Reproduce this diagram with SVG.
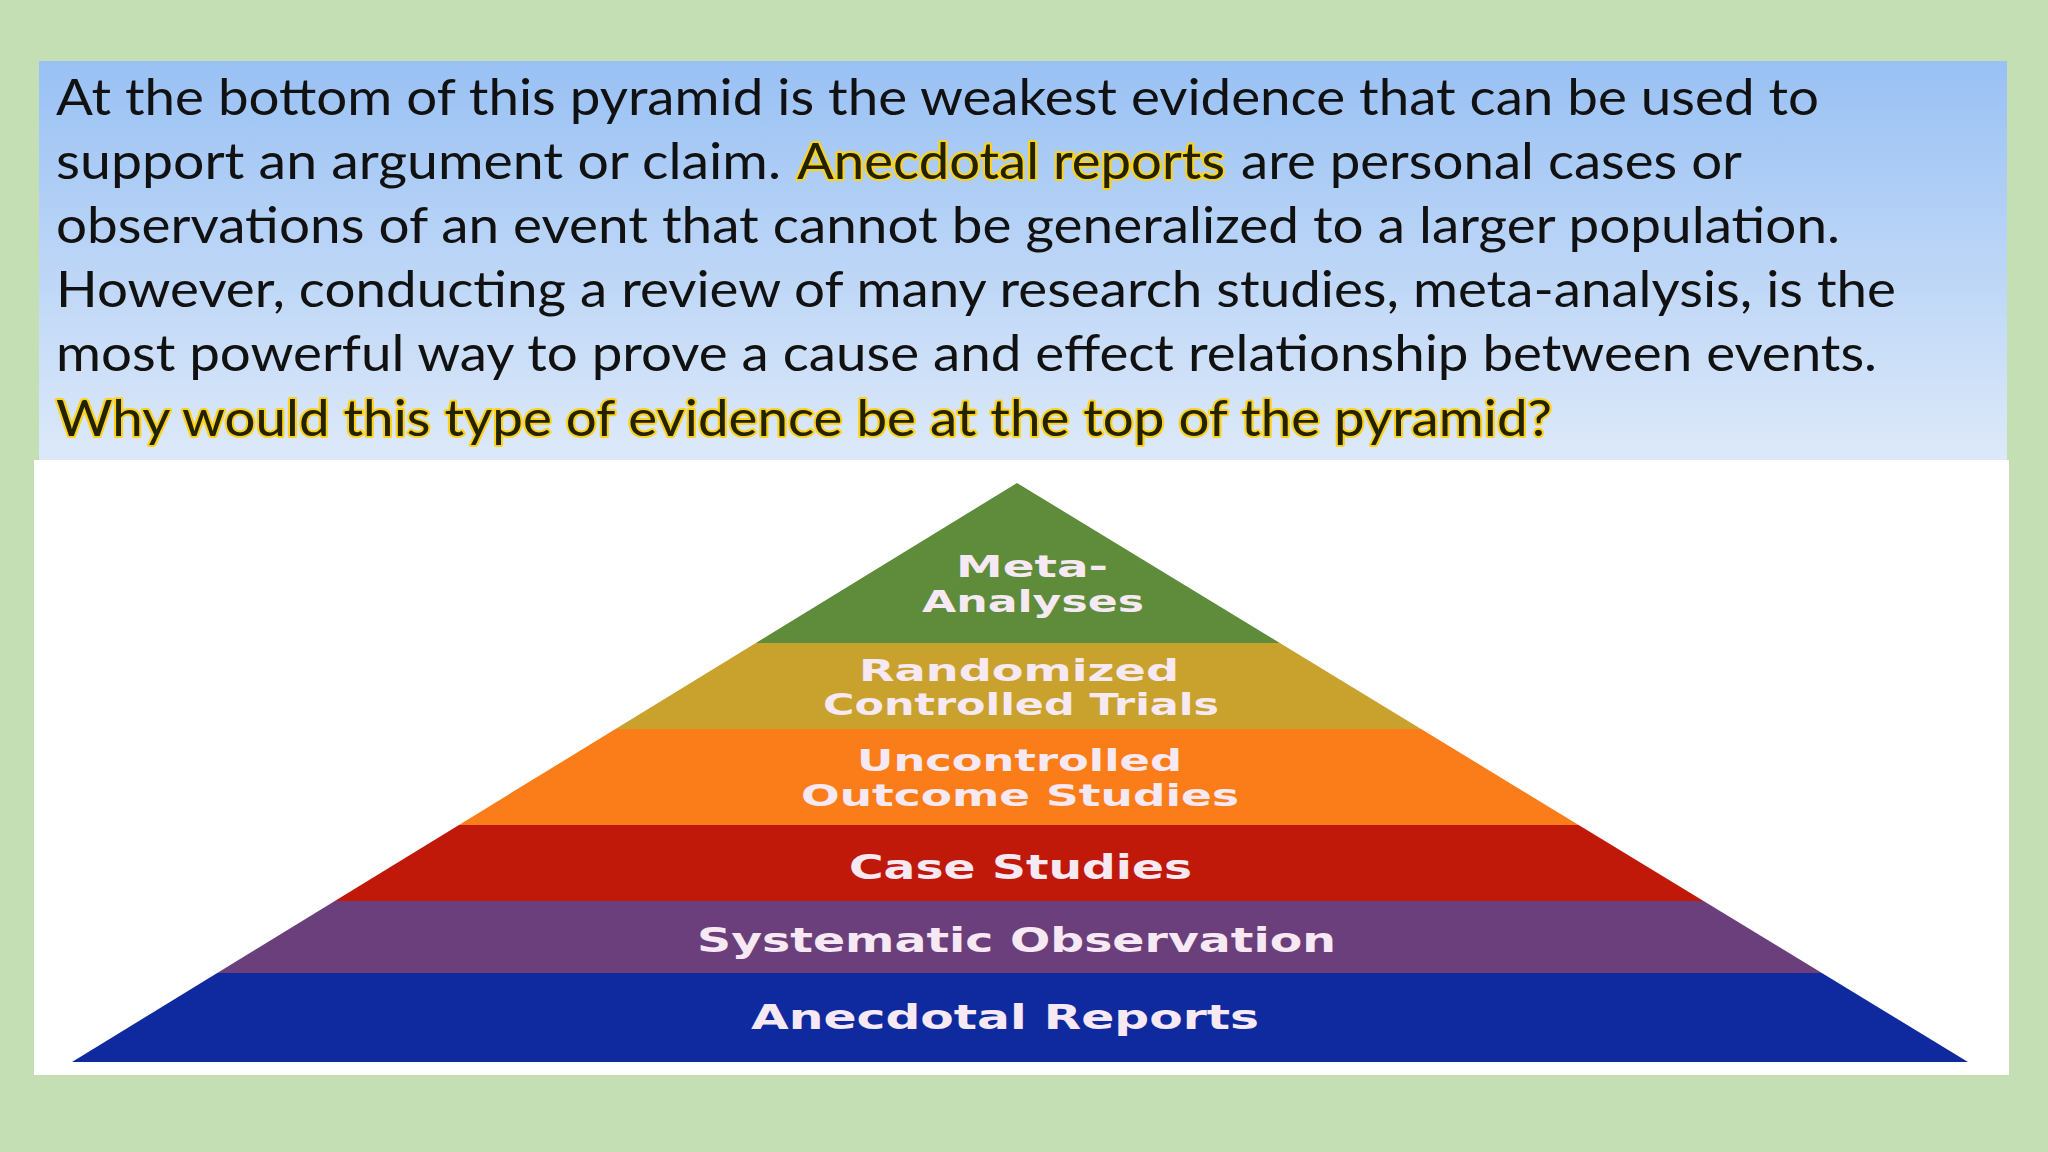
<svg xmlns="http://www.w3.org/2000/svg" width="2048" height="1152" viewBox="0 0 2048 1152">
<defs>
<linearGradient id="bg" x1="0" y1="0" x2="0" y2="1">
<stop offset="0" stop-color="#99c1f4"/>
<stop offset="1" stop-color="#dde9f9"/>
</linearGradient>
<clipPath id="tri"><polygon points="1017,483 72,1062 1968,1062"/></clipPath>
<style>
.t{font-family:Lato,"Open Sans",sans-serif;font-size:51px;fill:#111}
.h{fill:#222200;stroke:#ffd21a;stroke-width:4px;paint-order:stroke;stroke-linejoin:round}
.p{font-family:"DejaVu Sans","Liberation Sans",sans-serif;font-weight:bold;font-size:33px;fill:#f7e9f4;text-anchor:start}
.s{font-size:30px}
</style>
</defs>
<rect width="2048" height="1152" fill="#c5dfb4"/>
<rect x="39" y="61" width="1968" height="399" fill="url(#bg)"/>
<rect x="34" y="460" width="1975" height="615" fill="#ffffff"/>
<g id="text">
<text class="t" x="56" y="115" textLength="1763" lengthAdjust="spacingAndGlyphs">At the bottom of this pyramid is the weakest evidence that can be used to</text>
<text class="t" x="56" y="179" textLength="725" lengthAdjust="spacingAndGlyphs">support an argument or claim.</text>
<text class="t h" x="797" y="179" textLength="428" lengthAdjust="spacingAndGlyphs">Anecdotal reports</text>
<text class="t" x="1241" y="179" textLength="501" lengthAdjust="spacingAndGlyphs">are personal cases or</text>
<text class="t" x="56" y="243" textLength="1784" lengthAdjust="spacingAndGlyphs">observations of an event that cannot be generalized to a larger population.</text>
<text class="t" x="56" y="307" textLength="1840" lengthAdjust="spacingAndGlyphs">However, conducting a review of many research studies, meta-analysis, is the</text>
<text class="t" x="56" y="371" textLength="1821" lengthAdjust="spacingAndGlyphs">most powerful way to prove a cause and effect relationship between events.</text>
<text class="t h" x="56" y="436" textLength="1496" lengthAdjust="spacingAndGlyphs">Why would this type of evidence be at the top of the pyramid?</text>
</g>
<g id="pyramid" clip-path="url(#tri)">
<rect id="band-meta" x="60" y="480" width="1920" height="163" fill="#5e8c3b"/>
<rect id="band-rct" x="60" y="643" width="1920" height="86" fill="#c9a22e"/>
<rect id="band-unc" x="60" y="729" width="1920" height="96" fill="#fb7d19"/>
<rect id="band-case" x="60" y="825" width="1920" height="76" fill="#c0190a"/>
<rect id="band-sys" x="60" y="901" width="1920" height="72" fill="#6b3f7b"/>
<rect id="band-anec" x="60" y="973" width="1920" height="92" fill="#0f2a9e"/>
</g>
<g id="labels">
<text class="p s" x="956" y="577" textLength="152" lengthAdjust="spacingAndGlyphs">Meta-</text>
<text class="p s" x="922" y="612" textLength="222" lengthAdjust="spacingAndGlyphs">Analyses</text>
<text class="p s" x="859" y="681" textLength="320" lengthAdjust="spacingAndGlyphs">Randomized</text>
<text class="p s" x="823" y="715" textLength="396" lengthAdjust="spacingAndGlyphs">Controlled Trials</text>
<text class="p s" x="857" y="771" textLength="325" lengthAdjust="spacingAndGlyphs">Uncontrolled</text>
<text class="p s" x="801" y="806" textLength="438" lengthAdjust="spacingAndGlyphs">Outcome Studies</text>
<text class="p" x="849" y="879" textLength="343" lengthAdjust="spacingAndGlyphs">Case Studies</text>
<text class="p" x="697" y="952" textLength="639" lengthAdjust="spacingAndGlyphs">Systematic Observation</text>
<text class="p" x="751" y="1029" textLength="508" lengthAdjust="spacingAndGlyphs">Anecdotal Reports</text>
</g>
</svg>
